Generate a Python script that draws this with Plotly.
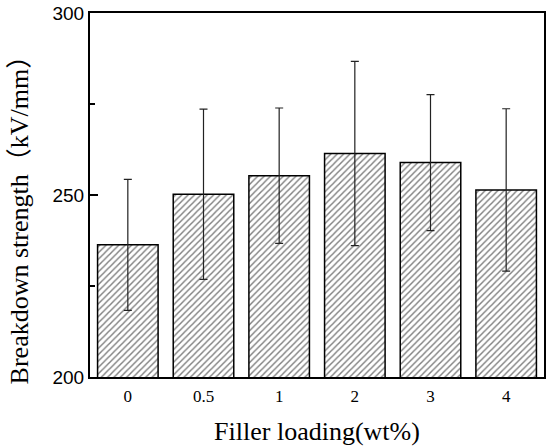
import plotly.graph_objects as go

loading = ["0", "0.5", "1", "2", "3", "4"]
strength = [236.3, 250.2, 255.3, 261.4, 258.9, 251.4]
err = [18.0, 23.4, 18.6, 25.3, 18.7, 22.3]

y_ticks = [200, 250, 300]

serif = "Liberation Serif, 'Noto Sans CJK SC', serif"
sans = "Liberation Sans, Arial, sans-serif"

fig = go.Figure()
fig.add_trace(go.Bar(
    x=loading,
    y=strength,
    width=0.8,
    marker=dict(
        color="white",
        line=dict(color="black", width=1.5),
        pattern=dict(shape="/", fgcolor="black", bgcolor="white", size=4.5, solidity=0.32),
    ),
    error_y=dict(type="data", array=err, visible=True, color="#222222", thickness=1.2, width=4),
))

fig.update_layout(
    width=550, height=446,
    margin=dict(l=90, r=6, t=13, b=69, autoexpand=False),
    paper_bgcolor="white", plot_bgcolor="white",
    showlegend=False,
)
fig.update_xaxes(
    showline=True, linecolor="black", linewidth=2, mirror=True,
    ticks="", showgrid=False, ticklabelstandoff=3, automargin=False,
    tickfont=dict(family=serif, size=17, color="black"),
    title=dict(text="Filler loading(wt%)", font=dict(family=serif, size=26, color="black"), standoff=17),
)
fig.update_yaxes(
    range=[200, 300], tickvals=y_ticks, automargin=False,
    showline=True, linecolor="black", linewidth=2, mirror=True,
    ticks="inside", ticklen=8, tickwidth=1.5, tickcolor="black",
    minor=dict(tickvals=[225, 275], ticks="inside", ticklen=5, tickwidth=1.5, tickcolor="black"),
    showgrid=False, zeroline=False,
    tickfont=dict(family=sans, size=19, color="black"),
    ticklabeloverflow="allow",
)
fig.add_annotation(
    text="Breakdown strength（kV/mm）",
    xref="paper", yref="paper", x=-0.156, y=0.45,
    xanchor="center", yanchor="middle", textangle=-90, showarrow=False,
    font=dict(family=serif, size=26, color="black"),
)

fig.write_html(
    "out.html",
    config={"displayModeBar": False},
    post_script="document.body.style.margin='0';document.body.style.overflow='hidden';",
)
